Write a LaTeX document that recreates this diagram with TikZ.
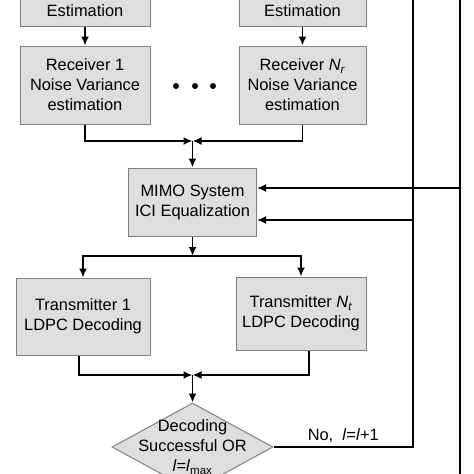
\documentclass[tikz,border=0pt]{standalone}
\usepackage{fontspec}
\setmainfont{Liberation Sans}
\usepackage{tikz}
\usetikzlibrary{arrows.meta,shapes.geometric}

\definecolor{boxfill}{RGB}{221,222,222}
\definecolor{boxline}{RGB}{128,128,128}

\begin{document}
\begin{tikzpicture}[x=1pt, y=-1pt,
    every node/.style={font=\fontsize{16.4}{20}\selectfont},
    block/.style={draw=boxline, fill=boxfill, line width=1pt, align=center, inner sep=0pt},
    decision/.style={diamond, draw=boxline, fill=boxfill, line width=1pt, inner sep=0pt},
    flow/.style={line width=1.9pt, -{Latex[length=9pt,width=8pt]}},
    link/.style={line width=1.9pt}]

    \useasboundingbox (0,0) rectangle (474,474);
    \clip (0,0) rectangle (474,474);

    % Channel estimation (cut off at the top)
    \node[block, minimum width=130pt, minimum height=74pt, anchor=south] (chL) at (85,27) {\strut\\\strut\\Estimation};
    \node[block, minimum width=127pt, minimum height=74pt, anchor=south] (chR) at (302.5,27) {\strut\\\strut\\Estimation};

    % Noise variance estimation
    \node[block, minimum width=130pt, minimum height=78pt] (rx1) at (85,85) {Receiver 1\\Noise Variance\\estimation};
    \node[block, minimum width=127pt, minimum height=78pt] (rxN) at (302.5,85) {Receiver \textit{N}\textsubscript{\textit{r}}\\Noise Variance\\estimation};
    \foreach \x/\n in {176/1, 195/2, 213/3}
        \node[circle, fill, inner sep=0pt, minimum size=6pt] (dot\n) at (\x,86) {};

    \draw[flow] (chL) -- (rx1);
    \draw[flow] (chR) -- (rxN);

    % Equalization
    \coordinate (j1) at (192.5,141);
    \node[block, minimum width=128pt, minimum height=68pt] (mimo) at (192.5,202) {MIMO System\\ICI Equalization};
    \draw[flow] (rx1.south) |- (j1);
    \draw[flow] (rxN.south) |- (j1);
    \draw[flow] (j1) -- (mimo.north);

    % LDPC decoding
    \coordinate (s1) at (192.5,256);
    \node[block, minimum width=134pt, minimum height=77pt] (tx1) at (83,316.5) {Transmitter 1\\LDPC Decoding};
    \node[block, minimum width=130pt, minimum height=73pt] (txN) at (301,313.5) {Transmitter \textit{N}\textsubscript{\textit{t}}\\LDPC Decoding};
    \draw[flow] (mimo.south) -- (s1);
    \draw[flow] (s1) -| (tx1.north);
    \draw[flow] (s1) -| (txN.north);

    % Stopping test
    \coordinate (j2) at (192.5,375);
    \node[decision, minimum width=161pt, minimum height=88pt,
        label={[name=dectext, align=center]center:Decoding\\Successful OR\\\textit{l}=\textit{l}\textsubscript{max}}] (dec) at (192.5,447) {};
    \draw[flow] ([xshift=-4pt]tx1.south) |- (j2);
    \draw[flow] ([xshift=8pt]txN.south) |- (j2);
    \draw[flow] (j2) -- (dec.north);

    % Feedback loops
    \coordinate (fbA) at (413,447);
    \coordinate (fbB) at (413,220);
    \coordinate (fbTop) at (413,-5);
    \coordinate (fcA) at (460,188);
    \coordinate (fcTop) at (460,-5);
    \coordinate (fcBot) at (460,480);
    \draw[link] (dec.east) -- node[above] (retry) {No,\ \ \textit{l}=\textit{l}+1} (fbA) -- (fbTop);
    \draw[link] (fcTop) -- (fcBot);
    \draw[flow] (fbB) -- (fbB -| mimo.east);
    \draw[flow] (fcA) -- (fcA -| mimo.east);
\end{tikzpicture}
\end{document}
